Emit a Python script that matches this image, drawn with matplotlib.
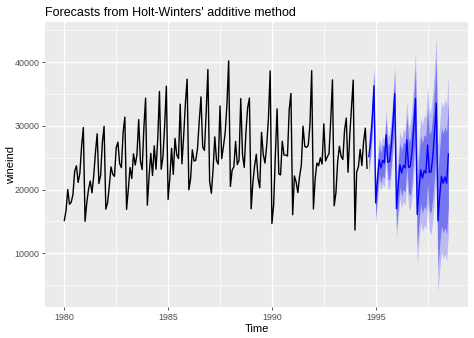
import numpy as np
import matplotlib
matplotlib.use("Agg")
import matplotlib.pyplot as plt
from matplotlib.ticker import MultipleLocator

plt.rcParams['font.family'] = ['Liberation Sans', 'DejaVu Sans']

# wineind monthly sales, Jan 1980 - Aug 1994
wine_1980 = [15136, 16733, 20016, 17708, 18019, 19227, 22893, 23739, 21133, 22591, 26786, 29740]
wine_1981 = [15028, 17977, 20008, 21354, 19498, 22125, 25817, 28779, 20960, 22254, 27392, 29945]
wine_1982 = [16933, 17892, 20533, 23569, 22417, 22084, 26580, 27454, 24081, 23451, 28991, 31386]
wine_1983 = [16896, 20045, 23471, 21747, 25621, 23859, 25500, 30998, 24475, 23145, 29701, 34365]
wine_1984 = [17556, 22077, 25702, 22214, 26886, 23191, 27831, 35406, 23195, 25110, 30009, 36242]
wine_1985 = [18450, 21845, 26488, 22394, 28057, 25451, 24872, 33424, 24052, 28449, 33533, 37351]
wine_1986 = [19969, 21701, 26249, 24493, 24603, 26485, 30723, 34569, 26689, 26157, 32064, 38870]
wine_1987 = [21337, 19419, 23166, 28286, 24570, 24001, 33151, 24878, 26804, 28967, 33311, 40226]
wine_1988 = [20504, 23060, 23562, 27562, 23940, 24584, 34303, 25517, 23494, 29095, 32903, 34379]
wine_1989 = [16991, 21109, 23740, 25552, 21752, 20294, 29009, 25500, 24166, 26960, 31222, 38641]
wine_1990 = [14672, 17543, 25453, 32683, 22449, 22316, 27595, 25451, 25421, 25288, 32568, 35110]
wine_1991 = [16052, 22146, 21198, 19543, 22084, 23816, 29961, 26773, 26635, 26972, 30207, 38687]
wine_1992 = [16974, 21697, 24179, 23757, 25013, 24019, 30345, 24488, 25156, 25650, 30923, 37240]
wine_1993 = [17466, 19463, 24352, 26805, 25236, 24735, 29356, 31234, 22724, 28496, 32857, 37198]
wine_1994 = [13652, 22784, 23565, 26323, 23779, 27549, 29660, 23356]

wineind = (wine_1980 + wine_1981 + wine_1982 + wine_1983 + wine_1984 + wine_1985
           + wine_1986 + wine_1987 + wine_1988 + wine_1989 + wine_1990 + wine_1991
           + wine_1992 + wine_1993 + wine_1994)

# point forecasts, Sep 1994 onwards
fc_mean = [25200, 27500, 31300, 36300,
           17900, 21500, 24700, 23400, 24600, 24200, 28600, 24300, 24400, 26800, 30600, 35100,
           17000, 20700, 23900, 22600, 23800, 23400, 27800, 23500, 23600, 26000, 29800, 34300,
           16100, 19900, 23100, 21800, 23000, 22600, 27000, 22700, 22800, 25200, 29000, 33600,
           15100, 19000, 22100, 21000, 22000, 21000, 25600]

# half widths of the 80% and 95% intervals
w80 = [1900, 1960, 2030, 2090, 2160, 2220, 2290, 2350, 2420, 2490, 2550, 2620,
       2880, 2940, 3010, 3110, 3250, 3350, 3450, 3580, 3700, 3830, 3950, 4080,
       4500, 4620, 4750, 4880, 5100, 5230, 5360, 5490, 5620, 5750, 5880, 6020,
       6450, 6600, 6750, 6950, 7400, 7550, 7680, 7800, 7920, 8050, 8180]
w95 = [2900, 3000, 3100, 3200, 3300, 3400, 3500, 3600, 3700, 3800, 3900, 4000,
       4400, 4500, 4600, 4750, 4950, 5100, 5250, 5450, 5650, 5850, 6050, 6250,
       6850, 7050, 7250, 7450, 7800, 8000, 8200, 8400, 8600, 8800, 9000, 9200,
       9850, 10050, 10300, 10600, 11300, 11500, 11700, 11900, 12100, 12300, 12500]

t = 1980 + np.arange(len(wineind)) / 12
tf = t[-1] + (np.arange(len(fc_mean)) + 1) / 12
fc = np.array(fc_mean)
w80 = np.array(w80)
w95 = np.array(w95)

fig = plt.figure(figsize=(4.74, 3.38), dpi=100)
ax = fig.add_axes([45.3 / 474, 1 - 307.3 / 338, 423 / 474, 285 / 338])
ax.set_facecolor('#EBEBEB')
for s in ax.spines.values():
    s.set_visible(False)

ax.xaxis.set_major_locator(MultipleLocator(5))
ax.xaxis.set_minor_locator(MultipleLocator(2.5))
ax.yaxis.set_major_locator(MultipleLocator(10000))
ax.yaxis.set_minor_locator(MultipleLocator(5000))
ax.grid(which='major', color='white', lw=1.0)
ax.grid(which='minor', color='white', lw=0.5)
ax.set_axisbelow(True)
ax.tick_params(which='minor', length=0)
ax.tick_params(which='major', length=2.2, width=0.6, color='#333333',
               labelsize=6.4, labelcolor='#4D4D4D', pad=1.8)

ax.plot(t, wineind, color='black', lw=1.0)
ax.fill_between(tf, fc - w95, fc + w95, color='#BCBCF3', lw=0)
ax.fill_between(tf, fc - w80, fc + w80, color='#7676EE', lw=0)
ax.plot(tf, fc, color='#0000FF', lw=1.0)

ax.set_xlim(1979.085, 1999.46)
ax.set_ylim(1520, 46280)
ax.set_xlabel('Time', fontsize=8, labelpad=1.5)
fig.text(11 / 474, 1 - 164.8 / 338, 'wineind', fontsize=8, rotation=90,
         ha='center', va='center')
fig.text(45.3 / 474, 1 - 15.5 / 338, "Forecasts from Holt-Winters' additive method",
         fontsize=9.0, ha='left', va='baseline')

fig.savefig('out.png', dpi=100)
